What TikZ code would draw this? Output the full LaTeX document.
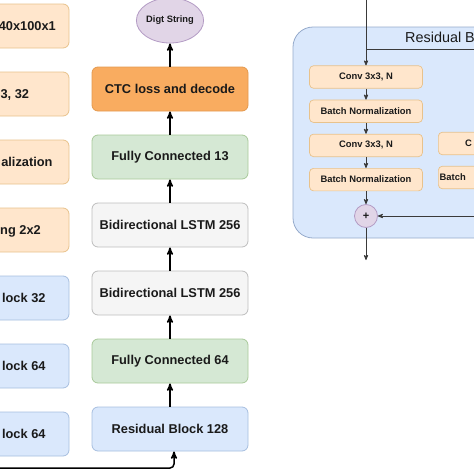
\documentclass[tikz,border=0pt]{standalone}
\usepackage{fontspec}
\setmainfont{Liberation Sans}
\usetikzlibrary{shapes.geometric,arrows,positioning}
\definecolor{txtcol}{HTML}{1A1A1A}
\definecolor{beigefill}{HTML}{FFE6CC}
\definecolor{beigeline}{HTML}{E8C28C}
\definecolor{ctcfill}{HTML}{F9AC60}
\definecolor{ctcline}{HTML}{E39A4F}
\definecolor{greenfill}{HTML}{D5E8D4}
\definecolor{greenline}{HTML}{A8C99A}
\definecolor{greyfill}{HTML}{F5F5F5}
\definecolor{greyline}{HTML}{BDBDBD}
\definecolor{bluefill}{HTML}{DAE8FC}
\definecolor{blueline}{HTML}{A6BEDF}
\definecolor{panelline}{HTML}{95AACB}
\definecolor{purplefill}{HTML}{E1D5E7}
\definecolor{purpleline}{HTML}{B39BC4}
\definecolor{linecol}{HTML}{3A3A3A}
\tikzset{main box/.style={rectangle,rounded corners=6pt,draw,line width=0.8pt,minimum width=156pt,minimum height=44pt,inner sep=0pt,text=txtcol,font=\bfseries\fontsize{12.8}{15}\selectfont},
         side label/.style={anchor=base east,inner sep=0pt,text=txtcol,font=\bfseries\fontsize{12.8}{15}\selectfont},
         inner box/.style={rectangle,rounded corners=4pt,draw=beigeline,fill=beigefill,line width=0.7pt,minimum width=113pt,minimum height=22.5pt,inner sep=0pt,text=txtcol,font=\bfseries\fontsize{9.4}{11}\selectfont},
         inner label/.style={anchor=base west,inner sep=0pt,text=txtcol,font=\bfseries\fontsize{9.4}{11}\selectfont},
         flow/.style={->,line width=1.5pt,draw=black},
         link/.style={->,line width=0.8pt,draw=linecol}
}
\begin{document}
\begin{tikzpicture}[x=1pt,y=-1pt,>=stealth',node distance=23.2pt]
\clip (0,0) rectangle (474,474);

% left column, cut by the frame
\node[main box,fill=beigefill,draw=beigeline] (inimg) at (-9,26) {};
\node[main box,fill=beigefill,draw=beigeline,below=of inimg] (conv32) {};
\node[main box,fill=beigefill,draw=beigeline,below=of conv32] (bnorm) {};
\node[main box,fill=beigefill,draw=beigeline,below=of bnorm] (pool) {};
\node[main box,fill=bluefill,draw=blueline,below=of pool] (res32) {};
\node[main box,fill=bluefill,draw=blueline,below=of res32] (res64a) {};
\node[main box,fill=bluefill,draw=blueline,below=of res64a] (res64b) {};
\node[side label] (inimg-t) at ([xshift=65pt,yshift=-4.6pt]inimg.center) {40x100x1};
\node[side label] (conv32-t) at ([xshift=38.3pt,yshift=-4.6pt]conv32.center) {3, 32};
\node[side label] (bnorm-t) at ([xshift=61.7pt,yshift=-4.6pt]bnorm.center) {alization};
\node[side label] (pool-t) at ([xshift=50pt,yshift=-4.6pt]pool.center) {ng 2x2};
\node[side label] (res32-t) at ([xshift=54.7pt,yshift=-4.6pt]res32.center) {lock 32};
\node[side label] (res64a-t) at ([xshift=54.7pt,yshift=-4.6pt]res64a.center) {lock 64};
\node[side label] (res64b-t) at ([xshift=54.7pt,yshift=-4.6pt]res64b.center) {lock 64};

% middle column
\node[main box,fill=bluefill,draw=blueline] (res128) at (170,429) {Residual Block 128};
\node[main box,fill=greenfill,draw=greenline,above=of res128] (fc64) {Fully Connected 64};
\node[main box,fill=greyfill,draw=greyline,above=of fc64] (lstmA) {Bidirectional LSTM 256};
\node[main box,fill=greyfill,draw=greyline,above=of lstmA] (lstmB) {Bidirectional LSTM 256};
\node[main box,fill=greenfill,draw=greenline,above=of lstmB] (fc13) {Fully Connected 13};
\node[main box,fill=ctcfill,draw=ctcline,above=of fc13] (ctc) {CTC loss and decode};
\node[ellipse,draw=purpleline,fill=purplefill,line width=0.8pt,minimum width=66pt,minimum height=45pt,inner sep=0pt,text=txtcol,font=\bfseries\fontsize{9.3}{11}\selectfont,above=of ctc] (digits) {Digt String};
\foreach \a/\b in {res128/fc64,fc64/lstmA,lstmA/lstmB,lstmB/fc13,fc13/ctc,ctc/digits}
    \draw[flow] (\a) -- (\b);
\coordinate (feed) at (-5,468);
\draw[flow,rounded corners=4pt] (feed) -| ([xshift=4pt]res128.south);

% residual block panel
\draw[fill=bluefill,draw=panelline,line width=0.8pt,rounded corners=20pt] (293,27) rectangle (660,238);
\node[anchor=base west,inner sep=0pt,text=txtcol,font=\fontsize{14.4}{17}\selectfont] (title) at (405,42) {Residual B};
\node[inner box] (convA) at (366,77) {Conv 3x3, N};
\node[inner box,below=11pt of convA] (bnA) {Batch Normalization};
\node[inner box,below=11pt of bnA] (convB) {Conv 3x3, N};
\node[inner box,below=11pt of convB] (bnB) {Batch Normalization};
\node[inner box,anchor=west] (convC) at (438,143.5) {};
\node[inner box,anchor=west] (bnC) at (438,177.5) {};
\node[inner label] (convC-t) at (465,146.9) {C};
\node[inner label] (bnC-t) at (439.5,180.9) {Batch};
\node[circle,draw=purpleline,fill=purplefill,line width=0.8pt,minimum size=23pt,inner sep=0pt,text=txtcol,font=\bfseries\fontsize{11}{11}\selectfont] (plus) at (366,216) {+};
\coordinate (top) at (366,-2);
\coordinate (split) at (366,49);
\coordinate (out) at (366,260);
\draw[link] (top) -- (convA);
\draw[link] (split) -| (convC);
\foreach \a/\b in {convA/bnA,bnA/convB,convB/bnB,bnB/plus}
    \draw[link] (\a) -- (\b);
\draw[link] (bnC) |- (plus);
\draw[link] (plus) -- (out);
\end{tikzpicture}
\end{document}
